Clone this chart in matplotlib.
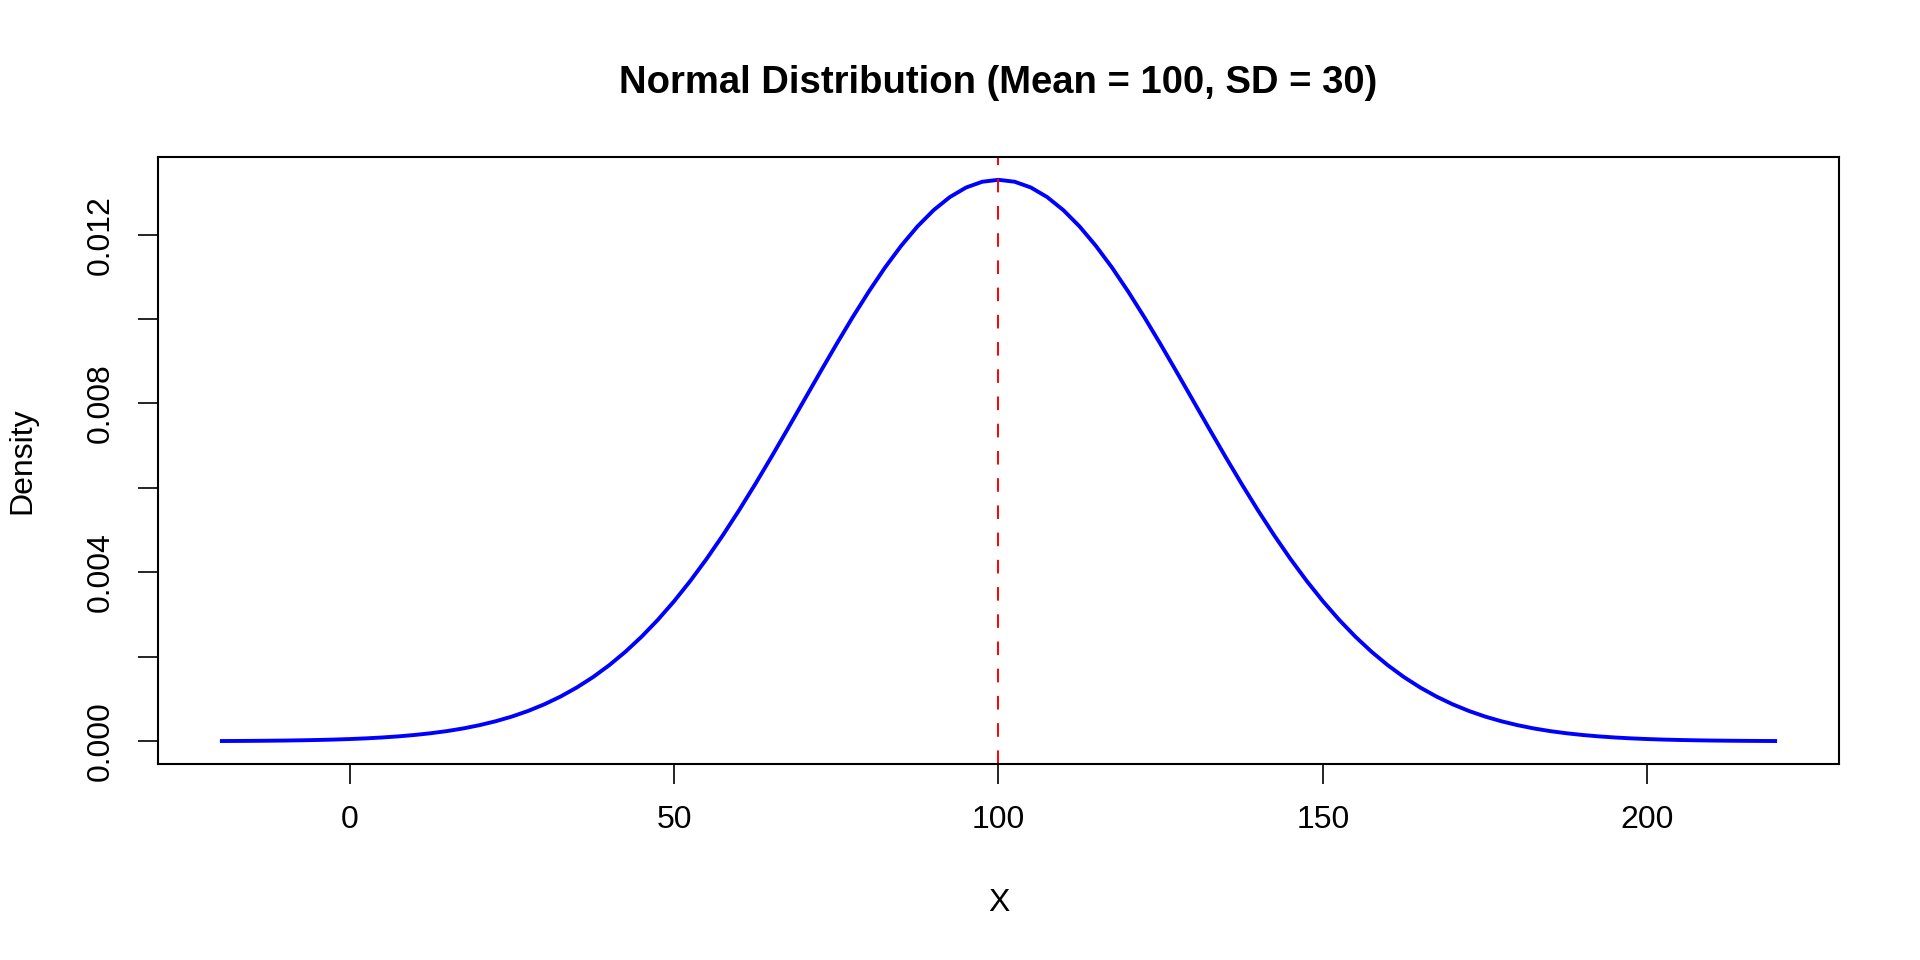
import matplotlib
matplotlib.use("Agg")
import matplotlib.pyplot as plt

# Data
x_vals = [-20, -17.5, -15, -12.5, -10, -7.5, -5, -2.5, 0, 2.5, 5, 7.5, 10, 12.5, 15, 17.5,
          20, 22.5, 25, 27.5, 30, 32.5, 35, 37.5, 40, 42.5, 45, 47.5, 50, 52.5, 55, 57.5,
          60, 62.5, 65, 67.5, 70, 72.5, 75, 77.5, 80, 82.5, 85, 87.5, 90, 92.5, 95, 97.5,
          100, 102.5, 105, 107.5, 110, 112.5, 115, 117.5, 120, 122.5, 125, 127.5, 130,
          132.5, 135, 137.5, 140, 142.5, 145, 147.5, 150, 152.5, 155, 157.5, 160, 162.5,
          165, 167.5, 170, 172.5, 175, 177.5, 180, 182.5, 185, 187.5, 190, 192.5, 195,
          197.5, 200, 202.5, 205, 207.5, 210, 212.5, 215, 217.5, 220]
half_density = [0.0000045, 0.0000062, 0.0000086, 0.0000118, 0.0000160, 0.0000217,
                0.0000291, 0.0000388, 0.0000514, 0.0000676, 0.0000884, 0.0001147,
                0.000148, 0.000189, 0.000240, 0.000303, 0.000380, 0.000473, 0.000584,
                0.000717, 0.000874, 0.001058, 0.001272, 0.001518, 0.001800, 0.002119,
                0.002477, 0.002876, 0.003316, 0.003797, 0.004317, 0.004875, 0.005467,
                0.006088, 0.006733, 0.007395, 0.008066, 0.008736, 0.009397, 0.010038,
                0.010648, 0.011218, 0.011735, 0.012192, 0.012579, 0.012889, 0.013115,
                0.013252]
peak_density = 0.013298
density_vals = half_density + [peak_density] + half_density[::-1]
mean_value = 100

x_ticks = [0, 50, 100, 150, 200]
y_ticks = [0.000, 0.002, 0.004, 0.006, 0.008, 0.010, 0.012]
y_tick_labels = ["0.000", "", "0.004", "", "0.008", "", "0.012"]

title_text = "Normal Distribution (Mean = 100, SD = 30)"
x_label = "X"
y_label = "Density"

plt.rcParams['font.family'] = ['Liberation Sans', 'DejaVu Sans']

fig = plt.figure(figsize=(19.2, 9.6), dpi=100)
ax = fig.add_axes([0.0821, 0.2045, 0.8759, 0.6316])

ax.plot(x_vals, density_vals, color='blue', lw=2.8, solid_capstyle='butt',
        solid_joinstyle='round')
ax.axvline(mean_value, color='red', lw=1.4, ls=(0, (7, 7)))

ax.set_xlim(-29.6, 229.6)
ax.set_ylim(-0.000532, 0.01383)
ax.set_xticks(x_ticks)
ax.set_xticklabels([str(t) for t in x_ticks])
ax.set_yticks(y_ticks)
ax.set_yticklabels(y_tick_labels)

for s in ax.spines.values():
    s.set_linewidth(1.5)
    s.set_color('black')

ax.tick_params(axis='both', length=14.4, width=1.2, labelsize=23, pad=15.5, color='black')
ax.tick_params(axis='y', labelrotation=90)
for lab in ax.get_yticklabels():
    lab.set_verticalalignment('center')

cx = 0.0821 + 0.8759 / 2
fig.text(cx, 1 - 93.3 / 960, title_text, ha='center', va='baseline',
         fontsize=27.5, fontweight='bold')
fig.text(cx, 1 - 910.7 / 960, x_label, ha='center', va='baseline', fontsize=23)
fig.text(22.3 / 1920, 0.5203, y_label, ha='center', va='center', rotation=90, fontsize=23)

fig.savefig("out.png", dpi=100)
